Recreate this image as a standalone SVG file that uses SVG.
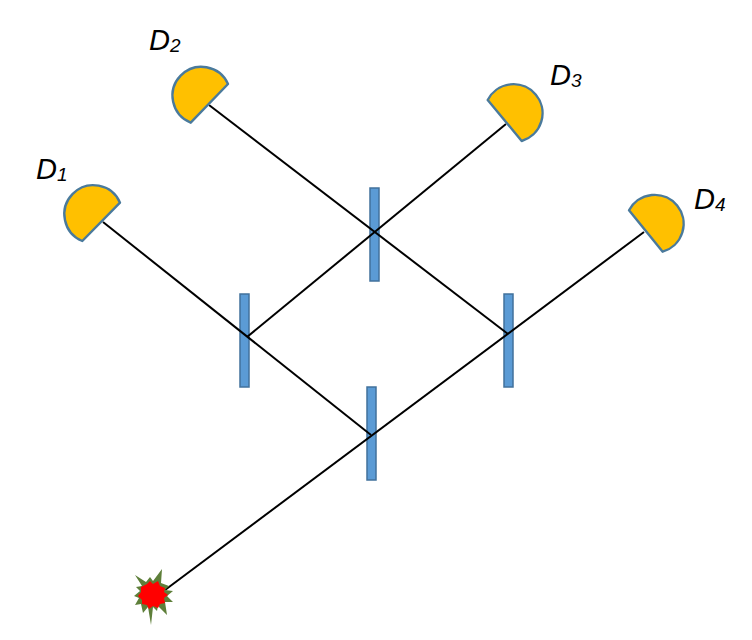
<svg xmlns="http://www.w3.org/2000/svg" width="752" height="640" viewBox="0 0 752 640">
<style>
.det{fill:#FFC000;stroke:#4A7A9C;stroke-width:2.4;stroke-linejoin:round}
.bs{fill:#5B9BD5;stroke:#41719C;stroke-width:1.5}
.beam{fill:none;stroke:#000;stroke-width:2}
.lab{font-family:"Liberation Sans",Arial,sans-serif;font-style:italic;font-size:29px;fill:#000}
.lab tspan{font-size:19px}
</style>
<rect width="752" height="640" fill="#fff"/>
<g id="splitter-a"><rect class="bs" x="240" y="294" width="9" height="93"/></g>
<g id="splitter-b"><rect class="bs" x="370" y="188" width="9" height="93"/></g>
<g id="splitter-c"><rect class="bs" x="367" y="387" width="9" height="93"/></g>
<g id="splitter-d"><rect class="bs" x="504" y="294" width="9" height="93"/></g>
<g id="connectors">
<path class="beam" d="M165 590L644 232"/>
<path class="beam" d="M103 222L371 435"/>
<path class="beam" d="M209 105L508 334"/>
<path class="beam" d="M247 337L506 124"/>
</g>
<g id="D1"><path class="det" d="M120 202.700A29 29 0 1 0 82.300 241Z"/><text class="lab" x="36" y="179">D<tspan dy="2">1</tspan></text></g>
<g id="D2"><path class="det" d="M228 84A29 29 0 1 0 190.700 122.700Z"/><text class="lab" x="149" y="50">D<tspan dy="2">2</tspan></text></g>
<g id="D3"><path class="det" d="M487.700 100A29 29 0 1 1 521.700 141Z"/><text class="lab" x="550" y="85">D<tspan dy="2">3</tspan></text></g>
<g id="D4"><path class="det" d="M629 210.300A29 29 0 1 1 662.700 251.700Z"/><text class="lab" x="694" y="209">D<tspan dy="2">4</tspan></text></g>
<g id="source">
<polygon fill="#5E7F3A" points="135,575 146,582 150,577 153,581 162,569 161,583 169,586 165,590 173,591 167,596 173,602 165,602 167,615 158,606 157,611 153,607 151,625 148,607 143,613 141,604 135,605 139,598 134,596 140,591 136,587 142,586"/>
<polygon fill="#FF0000" points="147,584 150,581 153,584 158,581 160,586 165,588 164,592 168,595 164,598 165,603 160,604 158,608 153,606 149,609 147,605 142,604 142,600 138,596 141,592 141,587"/>
</g>
</svg>
